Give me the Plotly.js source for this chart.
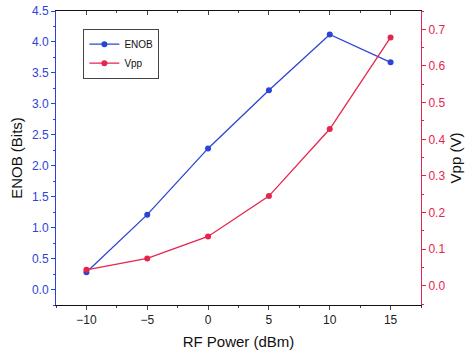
<!DOCTYPE html>
<html><head><meta charset="utf-8">
<script src="https://cdn.plot.ly/plotly-3.0.1.min.js"></script>
<style>html,body{margin:0;padding:0;background:#fff}#g{width:474px;height:356px}</style>
</head><body><div id="g"></div>
<script>
const rfPower = [-10, -5, 0, 5, 10, 15];
const enob = [0.28, 1.21, 2.28, 3.22, 4.12, 3.67];
const vpp = [0.044, 0.075, 0.135, 0.245, 0.428, 0.678];

const blue = '#2b44d8';
const red = '#e6254c';
const fontFam = 'Liberation Sans, Arial, sans-serif';

const traces = [
  {x: rfPower, y: enob, name: 'ENOB', type: 'scatter', mode: 'lines+markers',
   line: {color: blue, width: 1.3}, marker: {color: blue, size: 6}, xaxis: 'x', yaxis: 'y'},
  {x: rfPower, y: vpp, name: 'Vpp', type: 'scatter', mode: 'lines+markers',
   line: {color: red, width: 1.3}, marker: {color: red, size: 6}, xaxis: 'x', yaxis: 'y2'}
];

const layout = {
  width: 474, height: 356,
  margin: {l: 56, r: 53, t: 11, b: 51},
  paper_bgcolor: '#fff', plot_bgcolor: '#fff',
  font: {family: fontFam, size: 12, color: '#222'},
  showlegend: true,
  legend: {x: 0.075, y: 0.94, xanchor: 'left', yanchor: 'top', bgcolor: '#fff',
    bordercolor: '#444', borderwidth: 1, font: {size: 10, color: '#111'},
    tracegroupgap: 0, itemwidth: 30},
  xaxis: {range: [-12.5, 17.5], tickvals: rfPower, ticks: 'outside', ticklen: 4,
    showline: true, linecolor: '#111', linewidth: 1, showgrid: false, zeroline: false,
    tickfont: {size: 12, color: '#222'},
    minor: {ticks: 'outside', ticklen: 2, dtick: 2.5, tick0: 0, showgrid: false},
    title: {text: 'RF Power (dBm)', font: {size: 15, color: '#111'}, standoff: 10}},
  xaxis2: {overlaying: 'x', side: 'top', range: [-12.5, 17.5], tickvals: rfPower,
    ticks: 'inside', ticklen: 4, showticklabels: false, showline: true, linecolor: '#111',
    linewidth: 1, showgrid: false, zeroline: false,
    minor: {ticks: 'inside', ticklen: 2, dtick: 2.5, tick0: 0, showgrid: false}},
  yaxis: {range: [-0.25, 4.5], dtick: 0.5, tick0: 0, tickformat: '.1f', ticks: 'outside',
    ticklen: 4, showline: true, linecolor: blue, linewidth: 1, showgrid: false, zeroline: false,
    tickcolor: blue, tickfont: {size: 12, color: blue},
    minor: {ticks: 'outside', ticklen: 2, dtick: 0.25, tick0: 0, tickcolor: blue, showgrid: false},
    title: {text: 'ENOB (Bits)', font: {size: 15, color: '#111'}, standoff: 5}},
  yaxis2: {overlaying: 'y', side: 'right', range: [-0.052, 0.75], dtick: 0.1, tick0: 0,
    tickformat: '.1f', ticks: 'outside', ticklen: 4, showline: true, linecolor: red,
    linewidth: 1, showgrid: false, zeroline: false, tickcolor: red,
    tickfont: {size: 12, color: red},
    minor: {ticks: 'outside', ticklen: 2, dtick: 0.05, tick0: 0, tickcolor: red, showgrid: false},
    title: {text: 'Vpp (V)', font: {size: 15, color: '#111'}, standoff: 6}}
};

traces.push({x: [rfPower[0]], y: [enob[0]], xaxis: 'x2', yaxis: 'y', showlegend: false,
  hoverinfo: 'skip', mode: 'markers', marker: {opacity: 0}, type: 'scatter'});

Plotly.newPlot('g', traces, layout, {staticPlot: true});
</script></body></html>
